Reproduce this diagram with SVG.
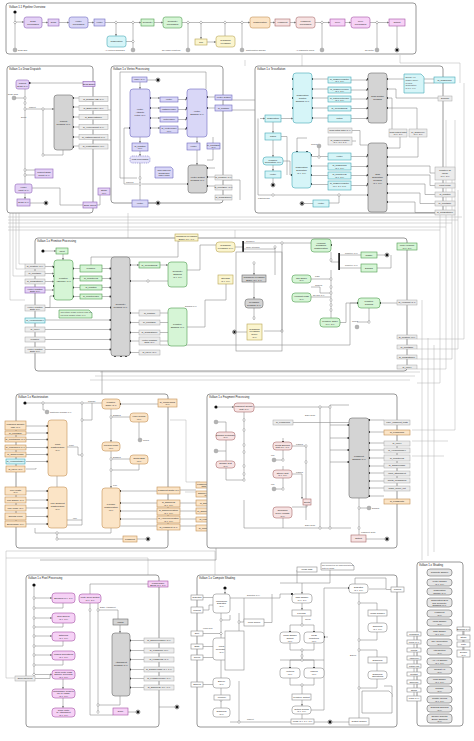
<svg xmlns="http://www.w3.org/2000/svg" xmlns:xlink="http://www.w3.org/1999/xlink" width="474" height="741" viewBox="0 0 474 741">
<style>
.fr{fill:#fff;stroke:#8c8c8c;stroke-width:.9}
.ti{font-family:"Liberation Sans",sans-serif;font-size:2.8px;fill:#222}
.t{font-family:"Liberation Sans",sans-serif;font-size:2.3px;fill:#222;text-anchor:middle}
.tl{font-family:"Liberation Sans",sans-serif;font-size:2.1px;fill:#444}
.c{fill:none;stroke:#858585;stroke-width:.55}
.ca{fill:none;stroke:#858585;stroke-width:.55;marker-end:url(#a)}
.cd{fill:none;stroke:#b0b0b0;stroke-width:.5}
.pu{fill:#e4d2f6;stroke:#8e63b8;stroke-width:.6}
.vb{fill:#d9d7f7;stroke:#6f6abf;stroke-width:.6}
.cy{fill:#d6f5f8;stroke:#43a8b6;stroke-width:.6}
.gn{fill:#d6f5d6;stroke:#4f9c4f;stroke-width:.6}
.ye{fill:#fbf5cf;stroke:#b9a553;stroke-width:.6}
.or{fill:#fbe4c6;stroke:#c49055;stroke-width:.6}
.pk{fill:#f7e3e3;stroke:#a96c6c;stroke-width:.6}
.mg{fill:#f6d2f6;stroke:#a552a5;stroke-width:.6}
.gy{fill:#d4d4d4;stroke:#6c6c6c;stroke-width:.6}
.lg{fill:#ececec;stroke:#a8a8a8;stroke-width:.5}
.wh{fill:#fff;stroke:#8c8c8c;stroke-width:.6}
.bar{fill:#111}
</style>
<defs>
<marker id="a" viewBox="0 0 6 6" refX="6" refY="3" markerWidth="4" markerHeight="4" orient="auto"><path d="M0,0L6,3L0,6z" fill="#777"/></marker>
<g id="dm"><path d="M0,-1.6L1.3,0L0,1.6L-1.3,0Z" fill="#fff" stroke="#777" stroke-width=".45"/></g>
<g id="tx"><circle r="1.8" fill="#fff" stroke="#555" stroke-width=".5"/><path d="M-1.2,-1.2L1.2,1.2M1.2,-1.2L-1.2,1.2" stroke="#555" stroke-width=".45"/></g>
<g id="te"><circle r="1.9" fill="#fff" stroke="#111" stroke-width=".5"/><circle r="1.2" fill="#111"/></g>
<g id="st"><circle r="1.6" fill="#111"/></g>
<rect id="pt" x="-.9" y="-.9" width="1.8" height="1.8" fill="#111"/>
</defs>
<rect width="474" height="741" fill="#fff"/>

<!-- ================= BUS CONNECTORS ================= -->
<g id="bus">
<path class="cd" d="M10,213V300H25M13,213V276H25M16,213V269H25M19,213V264H25"/>
<path class="cd" d="M8,217H462M8,220H458M8,223H452M8,227H446M8,230H440"/>
<path class="cd" d="M440,100V383H417M446,120V369H417M452,170V359H417M458,190V349H417M464,83V339H417"/>
<path class="cd" d="M422,300V560M428,338V556M434,345V552"/>
<path class="cd" d="M100,372H420M95,376H415M90,380H410"/>
<path class="c" d="M102,362V394"/>
<path class="cd" d="M6,551H215V575M6,558H148V575M6,551V678H15"/>
<path class="cd" d="M200,482H186V420H170M205,492H185"/>
<path class="cd" d="M412,430H455V120M412,441H448M412,456H444"/>
<path class="c" d="M93,110H111M93,140H111"/>
<path class="c" d="M223,100H255M223,110H255M223,180H240V200"/>
<path class="cd" d="M245,60V66M302,55V66M400,55V63H460V83"/>
<path class="c" d="M216,547V560H40"/>
<path class="cd" d="M235,230V238M128,213V238"/>
</g>

<!-- ================= TOP FRAME ================= -->
<g id="frame-overview">
<rect class="fr" x="6" y="3" width="410" height="51" rx="3"/>
<text class="ti" x="9" y="7.5">Vulkan 1.1 Pipeline Overview</text>
</g>
<g id="conn-overview">
<path class="c" d="M15,12V48"/>
<path class="ca" d="M15,22H24"/><path class="ca" d="M42,22.5H48"/><path class="ca" d="M59,22.5H69"/><path class="ca" d="M88,22.5H94"/>
<path class="ca" d="M105,22.5H141"/><path class="ca" d="M154,22.5H163"/><path class="ca" d="M182,22.5H250"/>
<path class="ca" d="M270,22.5H275"/><path class="ca" d="M290,22.5H296"/><path class="ca" d="M315,22.5H330"/>
<path class="ca" d="M345,22.5H351"/><path class="ca" d="M370,22.5H389"/>
<path class="ca" d="M116,22.5V36"/><path class="c" d="M126,41.5H133"/><path class="c" d="M133,22.5V48"/>
<path class="c" d="M188,22.5V48"/><path class="ca" d="M201,22.5V39"/><path class="ca" d="M207,42H216"/><path class="c" d="M225,36V22.5"/>
<path class="c" d="M242,22.5V48"/><path class="c" d="M322,22.5V48"/><path class="c" d="M377,22.5V48"/><path class="c" d="M397,26V48"/>
<use href="#st" x="15" y="12"/>
<use href="#dm" x="15" y="22.5"/><use href="#dm" x="116" y="22.5"/><use href="#dm" x="133" y="22.5"/><use href="#dm" x="133" y="41.5"/>
<use href="#dm" x="188" y="22.5"/><use href="#dm" x="201" y="22.5"/><use href="#dm" x="225" y="22.5"/><use href="#dm" x="242" y="22.5"/>
<use href="#dm" x="322" y="22.5"/><use href="#dm" x="377" y="22.5"/>
<use href="#tx" x="15" y="50"/><use href="#tx" x="133" y="50"/><use href="#tx" x="188" y="50"/><use href="#tx" x="242" y="50"/><use href="#tx" x="322" y="50"/><use href="#tx" x="377" y="50"/>
<use href="#te" x="397" y="50"/>
<text class="tl" x="18" y="51">Draw End</text>
<text class="tl" x="105" y="51">All vertices discarded</text>
<text class="tl" x="162" y="51">No visible primitives</text>
<text class="tl" x="246" y="51">Rasterization discard</text>
<text class="tl" x="296" y="51">All fragments culled</text>
<text class="tl" x="365" y="51">No writes</text>
</g>
<g id="n-o1"><rect class="pu" x="24" y="17" width="18" height="11" rx="2.5"/><text class="t" x="33" y="22">Draw</text><text class="t" x="33" y="25">Processing</text></g>
<g id="n-o2"><rect class="pu" x="48" y="19" width="11" height="7"/><text class="t" x="53.5" y="23.3">Draw</text></g>
<g id="n-o3"><rect class="vb" x="69" y="17" width="19" height="11" rx="2.5"/><text class="t" x="78.5" y="22">Vertex</text><text class="t" x="78.5" y="25">Processing</text></g>
<g id="n-o4"><rect class="vb" x="94" y="19" width="11" height="7"/><text class="t" x="99.5" y="23.3">Vertex</text></g>
<g id="n-o5"><rect class="cy" x="107" y="36" width="19" height="11" rx="2.5"/><text class="t" x="116.5" y="42.3">Tessellation</text></g>
<g id="n-o6"><rect class="gn" x="141" y="19" width="13" height="7"/><text class="t" x="147.5" y="23.3">Geometry</text></g>
<g id="n-o7"><rect class="gn" x="163" y="17" width="19" height="11" rx="2.5"/><text class="t" x="172.5" y="22">Geometry</text><text class="t" x="172.5" y="25">Processing</text></g>
<g id="n-o8"><rect class="ye" x="195" y="39" width="12" height="6"/><text class="t" x="201" y="42.8">Clip</text></g>
<g id="n-o9"><rect class="ye" x="216" y="36" width="19" height="11" rx="2.5"/><text class="t" x="225.5" y="41">Transform</text><text class="t" x="225.5" y="44">Feedback</text></g>
<g id="n-o10"><rect class="or" x="250" y="17" width="20" height="11" rx="2.5"/><text class="t" x="260" y="23.3">Rasterization</text></g>
<g id="n-o11"><rect class="pk" x="275" y="19" width="15" height="7"/><text class="t" x="282.5" y="23.3">Fragment</text></g>
<g id="n-o12"><rect class="pk" x="296" y="17" width="19" height="11" rx="2.5"/><text class="t" x="305.5" y="22">Fragment</text><text class="t" x="305.5" y="25">Processing</text></g>
<g id="n-o13"><rect class="mg" x="330" y="19" width="15" height="7"/><text class="t" x="337.5" y="23.3">Pixel</text></g>
<g id="n-o14"><rect class="mg" x="351" y="17" width="19" height="11" rx="2.5"/><text class="t" x="360.5" y="22">Pixel</text><text class="t" x="360.5" y="25">Processing</text></g>
<g id="n-o15"><rect class="mg" x="389" y="19" width="16" height="7"/><text class="t" x="397" y="23.3">Output</text></g>

<!-- ================= FRAME A ================= -->
<g id="frame-draw"><rect class="fr" x="7" y="66" width="86" height="147" rx="3"/><text class="ti" x="9" y="70">Vulkan 1.x Draw Dispatch</text></g>
<g id="conn-draw">
<path class="c" d="M29,83H83"/><path class="c" d="M15,98H25"/>
<path class="c" d="M25,89V184"/><path class="ca" d="M25,109H54"/><path class="c" d="M43,109V155H63V150"/>
<path class="c" d="M73,98H79M73,107H79M73,117H79M73,127H79M73,137H79M73,146H79"/>
<path class="c" d="M25,170H44V169"/><path class="c" d="M25,175H35"/>
<path class="ca" d="M25,193V199"/><path class="c" d="M30,203H44"/>
<path class="c" d="M32,188H60V205H83"/><path class="c" d="M97,205H100V195"/>
<use href="#dm" x="25" y="98"/><use href="#dm" x="25" y="103"/><use href="#dm" x="25" y="109"/><use href="#dm" x="43" y="109"/><use href="#dm" x="43" y="155"/><use href="#dm" x="25" y="170"/><use href="#dm" x="25" y="175"/>
<use href="#tx" x="14" y="98"/><use href="#te" x="46" y="203"/>
<use href="#pt" x="29.5" y="83"/>
<use href="#pt" x="73" y="98"/><use href="#pt" x="73" y="107"/><use href="#pt" x="73" y="117"/><use href="#pt" x="73" y="127"/><use href="#pt" x="73" y="137"/><use href="#pt" x="73" y="147"/>
<text class="tl" x="8" y="94.5">Draw Cmd</text><text class="tl" x="29" y="107.5">Indirect</text><text class="tl" x="21" y="118">Direct</text>
</g>
<g id="n-a1"><rect class="pu" x="16" y="80" width="13" height="9" rx="2"/><text class="t" x="22.5" y="84">Indirect</text><text class="t" x="22.5" y="87">Draw (1.x)</text></g>
<g id="n-a2"><rect class="pu" x="83" y="81.5" width="12" height="5"/><text class="t" x="89" y="84.8">Draw Buffer</text></g>
<g id="n-a3"><rect class="gy" x="54" y="95" width="19" height="55" rx="3"/><text class="t" x="63.5" y="121.5">Indirect</text><text class="t" x="63.5" y="124.5">Reading (1.x)</text></g>
<g id="n-a4"><rect class="lg" x="79" y="96.5" width="29" height="5"/><text class="t" x="93.5" y="99.8">gl_DrawIDARB (1.x)</text></g>
<g id="n-a5"><rect class="lg" x="79" y="105.5" width="29" height="5"/><text class="t" x="93.5" y="108.8">gl_BaseVertex (1.x)</text></g>
<g id="n-a6"><rect class="lg" x="79" y="114.5" width="29" height="5"/><text class="t" x="93.5" y="117.8">gl_BaseInstance</text></g>
<g id="n-a7"><rect class="lg" x="79" y="124.5" width="29" height="5"/><text class="t" x="93.5" y="127.8">gl_VertexCount (1.x)</text></g>
<g id="n-a8"><rect class="lg" x="79" y="134.5" width="29" height="5"/><text class="t" x="93.5" y="137.8">gl_InstanceCount (1.x)</text></g>
<g id="n-a9"><rect class="lg" x="79" y="144" width="29" height="5"/><text class="t" x="93.5" y="147.3">gl_FirstInstance (1.x)</text></g>
<g id="n-a10"><rect class="pu" x="35" y="169" width="18" height="9"/><text class="t" x="44" y="172.5">Indirect Draw</text><text class="t" x="44" y="175.5">Count (1.x)</text></g>
<g id="n-a11"><rect class="pu" x="15" y="184" width="17" height="9" rx="2"/><text class="t" x="23.5" y="187.8">Vertex</text><text class="t" x="23.5" y="190.8">Input (1.x)</text></g>
<g id="n-a12"><rect class="pu" x="17" y="199" width="13" height="7"/><text class="t" x="23.5" y="203.3">Draw (1.x)</text></g>
<g id="n-a13"><rect class="pu" x="83" y="202" width="14" height="6"/><text class="t" x="90" y="205.8">Draw Count</text></g>
<g id="n-a14"><rect class="pu" x="98" y="188" width="12" height="7"/><text class="t" x="104" y="191">Stride</text><text class="t" x="104" y="193.8">(1.x)</text></g>

<!-- ================= FRAME B ================= -->
<g id="frame-vertex"><rect class="fr" x="111" y="66" width="112" height="137" rx="3"/><text class="ti" x="113" y="70">Vulkan 1.x Vertex Processing</text></g>
<g id="conn-vertex">
<path class="c" d="M147,80H156"/><path class="ca" d="M140,82V89"/>
<path class="c" d="M120,72H206V89"/><path class="c" d="M120,72V178H137"/>
<path class="ca" d="M150,98H160"/><path class="ca" d="M150,108H160"/><path class="ca" d="M150,118H160"/><path class="ca" d="M150,128H160"/>
<path class="ca" d="M178,99.5H187"/><path class="ca" d="M178,109.5H187"/><path class="ca" d="M178,119.5H187"/><path class="ca" d="M178,129H187"/>
<path class="c" d="M207,97H215M207,108H215"/>
<path class="ca" d="M140,137V143"/><path class="ca" d="M140,151V156"/><path class="c" d="M140,163V200"/>
<path class="c" d="M130,128H124V184H138"/>
<path class="ca" d="M197,137V143"/><path class="ca" d="M197,150V165"/><path class="c" d="M213,137V143"/><path class="c" d="M213,149V160H207"/>
<path class="c" d="M142,184H188"/>
<path class="c" d="M207,168H215M207,177H215M207,186H215"/>
<path class="c" d="M148,203H156"/>
<use href="#dm" x="140" y="178"/><use href="#dm" x="140" y="184"/>
<use href="#te" x="158" y="80"/><use href="#te" x="158" y="203"/>
<use href="#pt" x="150" y="98"/><use href="#pt" x="150" y="108"/><use href="#pt" x="150" y="118"/><use href="#pt" x="150" y="128"/><use href="#pt" x="130" y="128"/>
<use href="#pt" x="187" y="98"/><use href="#pt" x="187" y="108"/><use href="#pt" x="187" y="118"/><use href="#pt" x="187" y="128"/><use href="#pt" x="207" y="97"/><use href="#pt" x="207" y="108"/>
<use href="#pt" x="207" y="168"/><use href="#pt" x="207" y="177"/><use href="#pt" x="207" y="186"/><use href="#pt" x="188" y="184"/>
<text class="tl" x="126" y="183">Indexed</text>
</g>
<g id="n-b1"><rect class="vb" x="132" y="77" width="15" height="5"/><text class="t" x="139.5" y="80.3">Index (1.x)</text></g>
<g id="n-b2"><rect class="vb" x="130" y="89" width="20" height="48" rx="3"/><text class="t" x="140" y="110">Vertex</text><text class="t" x="140" y="113">Attribute</text><text class="t" x="140" y="116">Fetch (1.x)</text></g>
<g id="n-b3"><rect class="vb" x="160" y="97" width="18" height="5"/><text class="t" x="169" y="100.3">Vertex</text></g>
<g id="n-b4"><rect class="vb" x="160" y="107" width="18" height="5"/><text class="t" x="169" y="110.3">InstanceIndex</text></g>
<g id="n-b5"><rect class="vb" x="160" y="117" width="18" height="5"/><text class="t" x="169" y="120.3">VertexIndex</text></g>
<g id="n-b6"><rect class="vb" x="160" y="126" width="18" height="7"/><text class="t" x="169" y="129">gl_VertexIndex</text><text class="t" x="169" y="131.6">(1.x)</text></g>
<g id="n-b7"><rect class="vb" x="187" y="89" width="20" height="48" rx="3"/><text class="t" x="197" y="111.5">Vertex</text><text class="t" x="197" y="114.5">Shading (1.x)</text></g>
<g id="n-b8"><rect class="vb" x="215" y="95" width="17" height="5"/><text class="t" x="223.5" y="98.3">Vertex Output</text></g>
<g id="n-b9"><rect class="vb" x="215" y="105" width="17" height="6"/><text class="t" x="223.5" y="108.8">gl_Position</text></g>
<g id="n-b10"><rect class="vb" x="132" y="143" width="16" height="8"/><text class="t" x="140" y="146.5">gl_Position</text><text class="t" x="140" y="149.3">(1.x)</text></g>
<g id="n-b11"><rect fill="#e4e2fa" stroke="#6f6abf" stroke-width=".6" stroke-dasharray="1,.8" x="130" y="156" width="20" height="7" rx="2.5"/><text class="t" x="140" y="160.3">Post-Processing</text></g>
<g id="n-b12"><path class="vb" d="M155,167H171L173,169V178H155Z"/><text class="t" x="164" y="171">Non-indexed</text><text class="t" x="164" y="173.5">draws skip</text><text class="t" x="164" y="176">index fetch</text></g>
<g id="n-b13"><rect class="vb" x="187" y="143" width="13" height="7"/><text class="t" x="193.5" y="147.3">Vertex</text></g>
<g id="n-b14"><rect class="vb" x="207" y="143" width="13" height="6"/><text class="t" x="213.5" y="145.8">gl_PointSize</text><text class="t" x="213.5" y="148.3">(1.x)</text></g>
<g id="n-b15"><rect class="gy" x="188" y="165" width="19" height="28" rx="3"/><text class="t" x="197.5" y="178">Vertex Output</text><text class="t" x="197.5" y="181">Reading (1.x)</text></g>
<g id="n-b16"><rect class="lg" x="215" y="175" width="17" height="5"/><text class="t" x="223.5" y="178.3">gl_Position (1.x)</text></g>
<g id="n-b17"><rect class="lg" x="215" y="185" width="17" height="5"/><text class="t" x="223.5" y="188.3">gl_PointSize (1.x)</text></g>
<g id="n-b18"><rect class="lg" x="215" y="195" width="17" height="5"/><text class="t" x="223.5" y="198.3">gl_ClipDistance</text></g>
<g id="n-b19"><rect class="vb" x="132" y="200" width="16" height="7"/><text class="t" x="140" y="204.3">Vertex</text></g>

<!-- ================= FRAME C ================= -->
<g id="frame-tess"><rect class="fr" x="255" y="66" width="188" height="147" rx="3"/><text class="ti" x="257" y="70">Vulkan 1.x Tessellation</text></g>
<g id="conn-tess">
<path class="c" d="M312,79H328M312,89H328M312,98H328M312,108H328M312,118H328"/>
<path class="ca" d="M351,80H368"/><path class="ca" d="M351,90H368"/><path class="ca" d="M351,99H368"/><path class="ca" d="M351,108.5H368"/><path class="ca" d="M351,118.5H368"/>
<path class="c" d="M387,79H434M387,89H396V98H438M387,98H392V133H389M387,108H417V129"/>
<path class="c" d="M424,83H434"/>
<path class="ca" d="M260,118.5H265"/><path class="ca" d="M281,118.5H293"/><path class="c" d="M258,118.5V195H339"/>
<path class="ca" d="M273,122V133"/><path class="ca" d="M273,140V157"/><path class="ca" d="M273,165V171"/><path class="c" d="M273,178V184"/>
<path class="c" d="M283,161H290V175H292"/>
<path class="c" d="M352,130.5H360V145H377M352,141H356"/>
<path class="c" d="M297,145V152M307,138H297V145"/><path class="c" d="M319,148V157"/>
<path class="c" d="M311,156.5H328M311,166H328M311,175.5H328M311,184.5H328"/>
<path class="ca" d="M351,156.5H368"/><path class="ca" d="M351,166.5H368"/><path class="ca" d="M351,175.5H368"/><path class="ca" d="M351,185.5H368"/>
<path class="c" d="M339,195H368M339,195V203H329"/><path class="c" d="M313,203.5H304"/>
<path class="c" d="M387,148H400V137M387,157H418V137M387,166H430V173H435M387,175H430V185.5H435M387,184H425V194.5H435M387,193H420V203.5H435M387,202H415V212.5H435"/>
<path class="c" d="M281,136.5H287V175"/>
<use href="#te" x="273" y="185"/><use href="#dm" x="273" y="195"/><use href="#dm" x="339" y="195"/><use href="#tx" x="319" y="146"/><use href="#dm" x="319" y="157"/><use href="#te" x="302" y="203.5"/>
<use href="#pt" x="293" y="79"/><use href="#pt" x="293" y="89"/><use href="#pt" x="293" y="98"/><use href="#pt" x="293" y="108"/>
<use href="#pt" x="312" y="79"/><use href="#pt" x="312" y="89"/><use href="#pt" x="312" y="98"/><use href="#pt" x="312" y="108"/><use href="#pt" x="312" y="118"/>
<use href="#pt" x="368" y="79"/><use href="#pt" x="368" y="89"/><use href="#pt" x="368" y="98"/><use href="#pt" x="368" y="108"/><use href="#pt" x="368" y="118"/>
<use href="#pt" x="387" y="79"/><use href="#pt" x="387" y="89"/><use href="#pt" x="387" y="98"/><use href="#pt" x="387" y="108"/>
<use href="#pt" x="297" y="152"/><use href="#pt" x="307" y="152"/><use href="#pt" x="292" y="175"/>
<use href="#pt" x="311" y="155"/><use href="#pt" x="311" y="166"/><use href="#pt" x="311" y="175"/><use href="#pt" x="311" y="184"/>
<use href="#pt" x="368" y="155"/><use href="#pt" x="368" y="166"/><use href="#pt" x="368" y="175"/><use href="#pt" x="368" y="184"/><use href="#pt" x="368" y="195"/>
<use href="#pt" x="387" y="148"/><use href="#pt" x="387" y="157"/><use href="#pt" x="387" y="166"/><use href="#pt" x="387" y="175"/><use href="#pt" x="387" y="184"/><use href="#pt" x="387" y="193"/><use href="#pt" x="387" y="202"/>
<text class="tl" x="311" y="145">Culled</text><text class="tl" x="258" y="199">Passthrough</text>
</g>
<g id="n-c1"><rect class="cy" x="293" y="73" width="19" height="50" rx="3"/><text class="t" x="302.5" y="96">Tessellation</text><text class="t" x="302.5" y="99">Control</text><text class="t" x="302.5" y="102">Shading (1.x)</text></g>
<g id="n-c2"><rect class="cy" x="328" y="77" width="23" height="6"/><text class="t" x="339.5" y="79.6">gl_TessLevelOuter</text><text class="t" x="339.5" y="82.2">(1.x, 1.x)</text></g>
<g id="n-c3"><rect class="cy" x="328" y="87" width="23" height="6"/><text class="t" x="339.5" y="89.6">gl_TessLevelInner</text><text class="t" x="339.5" y="92.2">(1.x, 1.x)</text></g>
<g id="n-c4"><rect class="cy" x="328" y="96" width="23" height="6"/><text class="t" x="339.5" y="98.6">gl_PatchVerticesIn</text><text class="t" x="339.5" y="101.2">(1.x, 1.x)</text></g>
<g id="n-c5"><rect class="cy" x="328" y="106" width="23" height="5"/><text class="t" x="339.5" y="109.3">gl_InvocationID</text></g>
<g id="n-c6"><rect class="cy" x="328" y="115" width="23" height="7"/><text class="t" x="339.5" y="119.3">Patch</text></g>
<g id="n-c7"><rect class="gy" x="368" y="73" width="19" height="50" rx="3"/><text class="t" x="377.5" y="96.5">Tess Control</text><text class="t" x="377.5" y="99.5">Reading</text></g>
<g id="n-c8"><path class="cy" d="M404,74H421L424,77V93H404Z"/><text class="tl" x="405.5" y="78">Bound: if a</text><text class="tl" x="405.5" y="80.8">shader object</text><text class="tl" x="405.5" y="83.6">is used</text><text class="tl" x="405.5" y="86.4">Tessellation</text><text class="tl" x="405.5" y="89.2">is (1.x, 1.x)</text></g>
<g id="n-c9"><rect class="cy" x="434" y="77" width="21" height="6"/><text class="t" x="444.5" y="80.8">gl_TessCoord</text></g>
<g id="n-c10"><rect class="lg" x="438" y="96" width="14" height="5"/><text class="t" x="445" y="99.3">Domain</text></g>
<g id="n-c11"><rect class="cy" x="265" y="115" width="16" height="7"/><text class="t" x="273" y="119.3">Tessellation</text></g>
<g id="n-c12"><rect class="cy" x="265" y="133" width="16" height="7"/><text class="t" x="273" y="137.3">Patch</text></g>
<g id="n-c13"><rect class="cy" x="263" y="157" width="20" height="8" rx="3"/><text class="t" x="273" y="160.5">Primitive</text><text class="t" x="273" y="163.3">Generation (1.x)</text></g>
<g id="n-c14"><rect class="cy" x="265" y="171" width="16" height="7"/><text class="t" x="273" y="175.3">Vertex</text></g>
<g id="n-c15"><rect class="lg" x="328" y="128" width="24" height="5"/><text class="t" x="340" y="131.3">Tess patch data (1.x)</text></g>
<g id="n-c16"><rect class="lg" x="328" y="137" width="24" height="8"/><text class="t" x="340" y="140.5">gl_TessLevelOuter</text><text class="t" x="340" y="143.3">(1.x, 1.x, 1.x)</text></g>
<g id="n-c17"><rect class="cy" x="292" y="152" width="19" height="36" rx="3"/><text class="t" x="301.5" y="167.5">Tessellation</text><text class="t" x="301.5" y="170.5">Evaluation</text><text class="t" x="301.5" y="173.5">(1.x, 1.x)</text></g>
<g id="n-c18"><rect class="cy" x="328" y="153" width="23" height="7"/><text class="t" x="339.5" y="157.3">Vertex</text></g>
<g id="n-c19"><rect class="cy" x="328" y="163" width="23" height="7"/><text class="t" x="339.5" y="166">gl_TessCoord</text><text class="t" x="339.5" y="168.6">(1.x, 1.x)</text></g>
<g id="n-c20"><rect class="cy" x="328" y="172" width="23" height="7"/><text class="t" x="339.5" y="175">gl_PrimitiveID</text><text class="t" x="339.5" y="177.6">(1.x, 1.x)</text></g>
<g id="n-c21"><rect class="cy" x="328" y="181" width="23" height="9"/><text class="t" x="339.5" y="184.3">gl_TessLevelOuter</text><text class="t" x="339.5" y="187">(1.x, 1.x, 1.x)</text></g>
<g id="n-c22"><rect class="gy" x="368" y="143" width="19" height="69" rx="3"/><text class="t" x="377.5" y="175">Tess</text><text class="t" x="377.5" y="178">Evaluation</text><text class="t" x="377.5" y="181">Reading</text><text class="t" x="377.5" y="184">(1.x, 1.x)</text></g>
<g id="n-c23"><rect class="lg" x="389" y="129" width="18" height="8"/><text class="t" x="398" y="132.5">Tess output data</text><text class="t" x="398" y="135.3">(1.x, 1.x)</text></g>
<g id="n-c24"><rect class="lg" x="409" y="129" width="18" height="8"/><text class="t" x="418" y="132.5">gl_TessLevel</text><text class="t" x="418" y="135.3">(1.x, 1.x)</text></g>
<g id="n-c25"><rect class="lg" x="435" y="167" width="20" height="13"/><text class="t" x="445" y="171">Primitive ID</text><text class="t" x="445" y="173.8">range</text><text class="t" x="445" y="176.6">(1.x, 1.x)</text></g>
<g id="n-c26"><rect class="lg" x="435" y="183" width="20" height="5"/><text class="t" x="445" y="186.3">Point Mode</text></g>
<g id="n-c27"><rect class="lg" x="435" y="192" width="20" height="5"/><text class="t" x="445" y="195.3">gl_Position</text></g>
<g id="n-c28"><rect class="lg" x="435" y="201" width="20" height="5"/><text class="t" x="445" y="204.3">gl_PointSize</text></g>
<g id="n-c29"><rect class="lg" x="435" y="210" width="20" height="5"/><text class="t" x="445" y="213.3">gl_ClipDistance</text></g>
<g id="n-c30"><rect class="cy" x="313" y="200" width="16" height="7"/><text class="t" x="321" y="204.3">Vertex</text></g>

<!-- ================= ROW 3 ================= -->
<g id="frame-geom"><rect class="fr" x="35" y="238" width="372" height="133" rx="3"/><text class="ti" x="37" y="242">Vulkan 1.x Primitive Processing</text></g>
<g id="conn-geom">
<path class="ca" d="M45,251H56"/><path class="ca" d="M63,254V260"/>
<path class="ca" d="M45,266.5H54"/><path class="ca" d="M45,273.5H54"/><path class="ca" d="M45,281.5H54"/><path class="ca" d="M45,290H54"/><path class="c" d="M45,307.5H50V296H54"/>
<path class="c" d="M73,268.5H80M73,278.5H80M73,287.5H80M73,296.5H80"/>
<path class="c" d="M91,265V257H178V241H180"/>
<path class="ca" d="M102,268.5H111"/><path class="ca" d="M102,278.5H111"/><path class="ca" d="M102,287.5H111"/><path class="ca" d="M102,296.5H111"/>
<path class="ca" d="M45,320H111"/><path class="ca" d="M45,329.5H111"/><path class="ca" d="M45,339.5H111"/><path class="ca" d="M45,349.5H111"/><path class="c" d="M45,307.5H111"/>
<path class="ca" d="M130,265H139"/><path class="ca" d="M160,265H168"/>
<path class="c" d="M130,281H148V282"/><path class="c" d="M148,281H168"/>
<path class="c" d="M130,313H139M130,322.5H139M130,332.5H139M130,341H139M130,352.5H139"/>
<path class="c" d="M160,313H168M160,322.5H168M160,332.5H168M160,341H168"/>
<path class="c" d="M187,270H200V245H216"/><path class="c" d="M187,327H205V300H226"/>
<path class="c" d="M235,247H243"/><path class="c" d="M244,243H282M244,249H275V247"/>
<path class="c" d="M282,243H311M282,243V331H264"/><path class="c" d="M275,247V275"/>
<path class="ca" d="M254,263V275"/><path class="ca" d="M254,282V299"/><path class="c" d="M254,308V320"/>
<path class="c" d="M237,332H247"/><path class="c" d="M226,284V300"/>
<path class="c" d="M331,252V262H339"/><path class="c" d="M340,255H361M340,268H361"/><path class="c" d="M377,255H385M377,268H391V255"/>
<path class="c" d="M331,270V318M311,279H331M311,297H331M311,287H320V293H331"/>
<path class="c" d="M340,322.5H346V303H358"/><path class="c" d="M380,303H397"/><path class="c" d="M369,308V322H357"/>
<path class="c" d="M359,303H350V345H160"/>
<use href="#st" x="43" y="251"/>
<rect class="bar" x="242.3" y="241" width="1.6" height="11"/><rect class="bar" x="338.3" y="253" width="1.6" height="17"/>
<use href="#dm" x="282" y="243"/><use href="#dm" x="275" y="247"/><use href="#dm" x="282" y="331"/><use href="#dm" x="254" y="263"/><use href="#dm" x="254" y="318"/>
<use href="#dm" x="331" y="260"/><use href="#dm" x="331" y="279"/><use href="#dm" x="331" y="287"/><use href="#dm" x="331" y="293"/><use href="#dm" x="331" y="300"/><use href="#dm" x="331" y="305"/><use href="#dm" x="331" y="310"/>
<use href="#dm" x="369" y="322"/><use href="#dm" x="148" y="281"/>
<use href="#te" x="234.5" y="332"/><use href="#te" x="387" y="255"/><use href="#tx" x="357" y="327"/>
<use href="#pt" x="54" y="267"/><use href="#pt" x="54" y="276"/><use href="#pt" x="54" y="286"/><use href="#pt" x="54" y="296"/>
<use href="#pt" x="73" y="268.5"/><use href="#pt" x="73" y="278.5"/><use href="#pt" x="73" y="287.5"/><use href="#pt" x="73" y="296.5"/>
<use href="#pt" x="111" y="268.5"/><use href="#pt" x="111" y="278.5"/><use href="#pt" x="111" y="287.5"/><use href="#pt" x="111" y="296.5"/><use href="#pt" x="111" y="307.5"/><use href="#pt" x="111" y="320"/><use href="#pt" x="111" y="329.5"/><use href="#pt" x="111" y="339.5"/><use href="#pt" x="111" y="349.5"/>
<use href="#pt" x="130" y="265"/><use href="#pt" x="130" y="281"/><use href="#pt" x="130" y="313"/><use href="#pt" x="130" y="322.5"/><use href="#pt" x="130" y="332.5"/><use href="#pt" x="130" y="341"/><use href="#pt" x="130" y="352.5"/>
<use href="#pt" x="115" y="356"/><use href="#pt" x="121" y="356"/><use href="#pt" x="126" y="356"/>
<use href="#pt" x="331" y="245"/><use href="#pt" x="358" y="303"/><use href="#pt" x="380" y="303"/>
<text class="tl" x="246" y="242">Stream 0</text><text class="tl" x="246" y="248">Other Streams</text>
<text class="tl" x="345" y="254">Primitive (1.x)</text><text class="tl" x="345" y="266">Primitive (1.x)</text>
<text class="tl" x="315" y="277">Pass</text><text class="tl" x="315" y="286">Clipped</text><text class="tl" x="313" y="296">No Clip (1.x)</text>
<text class="tl" x="352" y="322">Culled</text><text class="tl" x="185" y="307">Discard (1.x)</text>
</g>
<g id="n-g1"><rect class="gn" x="56" y="248" width="12" height="6"/><text class="t" x="62" y="251.8">Input</text></g>
<g id="n-g2"><rect class="gn" x="54" y="260" width="19" height="40" rx="3"/><text class="t" x="63.5" y="279">Primitive</text><text class="t" x="63.5" y="282">Assembly (1.x)</text></g>
<g id="n-g3"><rect class="lg" x="25" y="264" width="20" height="5"/><text class="t" x="35" y="267.3">gl_Position (1.x)</text></g>
<g id="n-g4"><rect class="lg" x="25" y="271" width="20" height="5"/><text class="t" x="35" y="274.3">gl_PointSize</text></g>
<g id="n-g5"><rect class="lg" x="25" y="279" width="20" height="5"/><text class="t" x="35" y="282.3">gl_ClipDistance</text></g>
<g id="n-g6"><rect class="pu" x="25" y="287" width="20" height="6"/><text class="t" x="35" y="289.7">Vertex Position</text><text class="t" x="35" y="292.2">Data (1.x)</text></g>
<g id="n-g7"><rect class="lg" x="25" y="305" width="20" height="6"/><text class="t" x="35" y="307.7">Vertex Position</text><text class="t" x="35" y="310.2">Data (1.x)</text></g>
<g id="n-g8"><rect class="cy" x="25" y="318" width="20" height="5"/><text class="t" x="35" y="321.3">gl_ViewportIndex</text></g>
<g id="n-g9"><rect class="lg" x="25" y="327" width="20" height="5"/><text class="t" x="35" y="330.3">gl_Layer</text></g>
<g id="n-g10"><rect class="lg" x="25" y="337" width="20" height="5"/><text class="t" x="35" y="340.3">Primitive</text></g>
<g id="n-g11"><rect class="lg" x="25" y="347" width="20" height="6"/><text class="t" x="35" y="349.7">Vertex Position</text><text class="t" x="35" y="352.2">Data (1.x)</text></g>
<g id="n-g12"><rect class="gn" x="80" y="265" width="22" height="7"/><text class="t" x="91" y="269.3">Primitive</text></g>
<g id="n-g13"><rect class="gn" x="80" y="276" width="22" height="5"/><text class="t" x="91" y="279.3">gl_PrimitiveID</text></g>
<g id="n-g14"><rect class="gn" x="80" y="285" width="22" height="5"/><text class="t" x="91" y="288.3">gl_Position</text></g>
<g id="n-g15"><rect class="gn" x="80" y="294" width="22" height="5"/><text class="t" x="91" y="297.3">gl_PrimitiveIDIn</text></g>
<g id="n-g16"><path class="gn" d="M59,310H89L92,313V318H59Z"/><text class="tl" x="60.5" y="313">This stage reads vertices from the</text><text class="tl" x="60.5" y="316">previous shader stage (1.x)</text></g>
<g id="n-g17"><rect class="gy" x="111" y="257" width="19" height="99" rx="3"/><text class="t" x="120.5" y="305">Geometry</text><text class="t" x="120.5" y="308">Reading (1.x)</text></g>
<g id="n-g18"><rect class="gn" x="139" y="262" width="21" height="6"/><text class="t" x="149.5" y="265.8">gl_InvocationID</text></g>
<g id="n-g19"><rect class="gn" x="168" y="262" width="19" height="25" rx="3"/><text class="t" x="177.5" y="272">Geometry</text><text class="t" x="177.5" y="275">Shading</text><text class="t" x="177.5" y="278">(1.x, 1.x)</text></g>
<g id="n-g20"><rect class="gn" x="168" y="308" width="19" height="38" rx="3"/><text class="t" x="177.5" y="325">Primitive</text><text class="t" x="177.5" y="328">Shading (1.x)</text></g>
<g id="n-g21"><rect class="lg" x="139" y="310" width="21" height="6"/><text class="t" x="149.5" y="313.8">gl_Position</text></g>
<g id="n-g22"><rect class="lg" x="139" y="320" width="21" height="5"/><text class="t" x="149.5" y="323.3">gl_PointSize</text></g>
<g id="n-g23"><rect class="lg" x="139" y="330" width="21" height="5"/><text class="t" x="149.5" y="333.3">gl_ClipDistance</text></g>
<g id="n-g24"><rect class="lg" x="139" y="337" width="21" height="8"/><text class="t" x="149.5" y="340.5">Vertex Position</text><text class="t" x="149.5" y="343.3">Data (1.x)</text></g>
<g id="n-g25"><rect class="lg" x="139" y="350" width="21" height="5"/><text class="t" x="149.5" y="353.3">gl_Layer (1.x)</text></g>
<g id="n-g26"><rect class="ye" x="175" y="234" width="23" height="7"/><text class="t" x="186.5" y="237">Transform Feedback</text><text class="t" x="186.5" y="239.6">Buffer (1.x, 1.x)</text></g>
<g id="n-g27"><rect class="ye" x="216" y="242" width="19" height="10" rx="3"/><text class="t" x="225.5" y="246">Transform</text><text class="t" x="225.5" y="249">Feedback (1.x)</text></g>
<g id="n-g28"><rect class="ye" x="218" y="275" width="15" height="9"/><text class="t" x="225.5" y="279">Streams</text><text class="t" x="225.5" y="281.8">(1.x, 1.x)</text></g>
<g id="n-g29"><rect fill="none" stroke="#8c8c8c" stroke-width=".6" x="236" y="252" width="46" height="99"/></g>
<g id="n-g30"><rect class="gy" x="242" y="275" width="24" height="7"/><text class="t" x="254" y="278">Transform Feedback</text><text class="t" x="254" y="280.6">Buffer (1.x, 1.x)</text></g>
<g id="n-g31"><rect class="gy" x="245" y="299" width="18" height="9" rx="3"/><text class="t" x="254" y="302.8">Feedback</text><text class="t" x="254" y="305.6">Reading (1.x)</text></g>
<g id="n-g32"><rect class="ye" x="247" y="324" width="15" height="16"/><text class="t" x="254.5" y="329.5">Transform</text><text class="t" x="254.5" y="332.3">Feedback</text><text class="t" x="254.5" y="335.1">Query</text><text class="t" x="254.5" y="337.9">(1.x)</text></g>
<g id="n-g33"><rect class="gn" x="311" y="239" width="20" height="13" rx="3"/><text class="t" x="321" y="243.5">Viewport</text><text class="t" x="321" y="246.3">Transform</text><text class="t" x="321" y="249.1">Rasterization</text></g>
<g id="n-g34"><rect class="gn" x="361" y="252" width="16" height="6"/><text class="t" x="369" y="255.8">Raster</text></g>
<g id="n-g35"><rect class="gn" x="361" y="264" width="16" height="8"/><text class="t" x="369" y="268.8">Discard</text></g>
<g id="n-g36"><rect class="gn" x="397" y="243" width="20" height="7"/><text class="t" x="407" y="246">Multi Viewport</text><text class="t" x="407" y="248.6">(1.x, 1.x)</text></g>
<g id="n-g37"><rect class="gn" x="292" y="275" width="19" height="8" rx="3"/><text class="t" x="301.5" y="278.5">Clip Space</text><text class="t" x="301.5" y="281.3">(1.x)</text></g>
<g id="n-g38"><rect class="gn" x="292" y="293" width="19" height="9" rx="3"/><text class="t" x="301.5" y="296.8">Viewport Mask</text><text class="t" x="301.5" y="299.6">(1.x)</text></g>
<g id="n-g39"><rect class="gn" x="320" y="318" width="20" height="9" rx="3"/><text class="t" x="330" y="321.8">Primitive Order</text><text class="t" x="330" y="324.6">(1.x, 1.x)</text></g>
<g id="n-g40"><rect class="gn" x="358" y="298" width="22" height="10" rx="3"/><text class="t" x="369" y="302.3">Primitive</text><text class="t" x="369" y="305.1">Clipping</text></g>
<g id="n-g41"><rect class="lg" x="397" y="300" width="20" height="5"/><text class="t" x="407" y="303.3">gl_Viewport (1.x)</text></g>
<g id="n-g42"><rect class="lg" x="397" y="335" width="20" height="4"/><text class="t" x="407" y="337.9">gl_Position (1.x)</text></g>
<g id="n-g43"><rect class="lg" x="397" y="345" width="20" height="4"/><text class="t" x="407" y="347.9">gl_PointSize</text></g>
<g id="n-g44"><rect class="lg" x="397" y="355" width="20" height="4"/><text class="t" x="407" y="357.9">gl_ClipDistance</text></g>
<g id="n-g45"><rect class="lg" x="397" y="365" width="20" height="4"/><text class="t" x="407" y="367.9">gl_Layer</text></g>

<!-- ================= FRAME D ================= -->
<g id="frame-raster"><rect class="fr" x="16" y="394" width="152" height="154" rx="3"/><text class="ti" x="18" y="398">Vulkan 1.x Rasterization</text></g>
<g id="conn-raster">
<path class="c" d="M27,403H102"/><path class="c" d="M43,403V410H45"/>
<path class="c" d="M120,404H158"/><path class="ca" d="M111,409V442"/><path class="c" d="M111,417H130"/><path class="c" d="M139,422V438"/>
<path class="ca" d="M111,451V488"/><path class="c" d="M111,459H130"/><path class="c" d="M139,464V470H111"/>
<path class="c" d="M82,403V525H57V528"/><path class="c" d="M67,447H78V455H82"/><path class="c" d="M67,520H82"/>
<path class="c" d="M57,476V487"/><path class="c" d="M92,403V420H82"/>
<path class="ca" d="M26,426H48"/><path class="ca" d="M26,433H48"/><path class="ca" d="M26,439.5H48"/><path class="ca" d="M26,447.5H48"/><path class="ca" d="M26,454.5H48"/><path class="ca" d="M26,461.5H48"/><path class="c" d="M26,469H36V468"/>
<path class="ca" d="M26,491H48"/><path class="ca" d="M26,500H48"/><path class="ca" d="M26,508H48"/><path class="ca" d="M26,516.5H48"/><path class="ca" d="M26,524H48"/>
<path class="c" d="M120,491H157M120,503H157M120,511H157M120,519H157M120,526H157"/>
<path class="c" d="M180,490H196M180,503H196M180,511H196M180,519H196M180,526H196"/>
<path class="c" d="M35,528V533H111V528M57,533V539H123"/><path class="c" d="M137,539H146"/>
<use href="#st" x="25" y="403"/><use href="#dm" x="43" y="403"/><use href="#dm" x="82" y="403"/><use href="#dm" x="82" y="420"/><use href="#dm" x="111" y="417"/><use href="#dm" x="111" y="459"/><use href="#dm" x="111" y="470"/>
<use href="#dm" x="82" y="455"/><use href="#dm" x="57" y="533"/><use href="#dm" x="57" y="539"/>
<use href="#tx" x="47" y="412"/><use href="#tx" x="140" y="440"/><use href="#te" x="148" y="539"/>
<use href="#pt" x="48" y="426"/><use href="#pt" x="48" y="433"/><use href="#pt" x="48" y="439.5"/><use href="#pt" x="48" y="447.5"/><use href="#pt" x="48" y="454.5"/><use href="#pt" x="48" y="461.5"/>
<use href="#pt" x="48" y="491"/><use href="#pt" x="48" y="500"/><use href="#pt" x="48" y="508"/><use href="#pt" x="48" y="516.5"/><use href="#pt" x="48" y="524"/>
<use href="#pt" x="120" y="491"/><use href="#pt" x="120" y="503"/><use href="#pt" x="120" y="511"/><use href="#pt" x="120" y="519"/><use href="#pt" x="120" y="404"/>
<text class="tl" x="50" y="413">Rasterizer discard (1.x)</text><text class="tl" x="88" y="401.5">Triangle</text><text class="tl" x="113" y="415.5">Enabled</text><text class="tl" x="143" y="441">Culled</text><text class="tl" x="113" y="457.5">Enabled</text><text class="tl" x="69" y="446">Point</text><text class="tl" x="73" y="519">Line</text><text class="tl" x="113" y="486">Poly</text>
</g>
<g id="n-d1"><rect class="or" x="102" y="399" width="18" height="10" rx="3"/><text class="t" x="111" y="403.3">Primitive</text><text class="t" x="111" y="406.1">Order (1.x)</text></g>
<g id="n-d2"><rect class="or" x="158" y="399" width="19" height="8"/><text class="t" x="167.5" y="402.5">gl_FrontFacing</text><text class="t" x="167.5" y="405.3">(1.x)</text></g>
<g id="n-d3"><rect class="or" x="130" y="413" width="18" height="9" rx="3"/><text class="t" x="139" y="416.8">Face Culling</text><text class="t" x="139" y="419.6">(1.x)</text></g>
<g id="n-d4"><rect class="or" x="102" y="442" width="18" height="9" rx="3"/><text class="t" x="111" y="445.8">Polygon Mode</text><text class="t" x="111" y="448.6">(1.x)</text></g>
<g id="n-d5"><rect class="or" x="130" y="455" width="18" height="9" rx="3"/><text class="t" x="139" y="458.8">Depth Bias</text><text class="t" x="139" y="461.6">(1.x)</text></g>
<g id="n-d6"><rect class="or" x="48" y="420" width="19" height="56" rx="3"/><text class="t" x="57.5" y="445">Point</text><text class="t" x="57.5" y="448">Rasterization</text><text class="t" x="57.5" y="451">(1.x)</text></g>
<g id="n-d7"><rect class="or" x="48" y="487" width="19" height="41" rx="3"/><text class="t" x="57.5" y="504">Line Segment</text><text class="t" x="57.5" y="507">Rasterization</text><text class="t" x="57.5" y="510">(1.x)</text></g>
<g id="n-d8"><rect class="or" x="102" y="488" width="18" height="40" rx="3"/><text class="t" x="111" y="505">Polygon</text><text class="t" x="111" y="508">Rasterization</text><text class="t" x="111" y="511">(1.x)</text></g>
<g id="n-d9"><rect class="or" x="5" y="421" width="21" height="9"/><text class="t" x="15.5" y="424.8">Fragment Density</text><text class="t" x="15.5" y="427.6">Map (1.x)</text></g>
<g id="n-d10"><rect class="or" x="5" y="431" width="21" height="4"/><text class="t" x="15.5" y="433.9">gl_PointSize</text></g>
<g id="n-d11"><rect class="or" x="5" y="437" width="21" height="5"/><text class="t" x="15.5" y="440.3">gl_PointCoord (1.x)</text></g>
<g id="n-d12"><rect class="or" x="5" y="445" width="21" height="5"/><text class="t" x="15.5" y="448.3">gl_FragCoord (1.x)</text></g>
<g id="n-d13"><rect class="or" x="5" y="452" width="21" height="5"/><text class="t" x="15.5" y="455.3">gl_SampleMask</text></g>
<g id="n-d14"><rect class="cy" x="6" y="459" width="19" height="5"/><text class="t" x="15.5" y="462.3">gl_ViewportIndex</text></g>
<g id="n-d15"><rect class="or" x="6" y="466" width="19" height="6"/><text class="t" x="15.5" y="469.8">gl_Layer (1.x)</text></g>
<g id="n-d16"><rect class="or" x="5" y="487" width="21" height="8"/><text class="t" x="15.5" y="490.5">Line Width</text><text class="t" x="15.5" y="493.3">(1.x)</text></g>
<g id="n-d17"><rect class="or" x="5" y="497" width="21" height="6"/><text class="t" x="15.5" y="500.8">Line Stipple (1.x)</text></g>
<g id="n-d18"><rect class="or" x="5" y="505" width="21" height="6"/><text class="t" x="15.5" y="508.8">Line Mode (1.x)</text></g>
<g id="n-d19"><rect class="or" x="5" y="513" width="21" height="7"/><text class="t" x="15.5" y="517.3">Smooth Lines</text></g>
<g id="n-d20"><rect class="or" x="5" y="521" width="21" height="6"/><text class="t" x="15.5" y="524.8">Bresenham (1.x)</text></g>
<g id="n-d21"><rect class="or" x="157" y="487" width="23" height="7"/><text class="t" x="168.5" y="491.3">Fragment depth (1.x)</text></g>
<g id="n-d22"><rect class="or" x="157" y="500" width="23" height="7"/><text class="t" x="168.5" y="503">gl_SampleID</text><text class="t" x="168.5" y="505.6">(1.x, 1.x)</text></g>
<g id="n-d23"><rect class="or" x="157" y="508" width="23" height="7"/><text class="t" x="168.5" y="511">gl_SamplePosition</text><text class="t" x="168.5" y="513.6">(1.x, 1.x)</text></g>
<g id="n-d24"><rect class="or" x="157" y="516" width="23" height="7"/><text class="t" x="168.5" y="519">gl_HelperInvocation</text><text class="t" x="168.5" y="521.6">(1.x, 1.x)</text></g>
<g id="n-d25"><rect class="or" x="157" y="524" width="23" height="6"/><text class="t" x="168.5" y="527.8">gl_Fragment (1.x)</text></g>
<g id="n-d26"><rect class="or" x="196" y="482" width="21" height="6"/><text class="t" x="206.5" y="484.6">Fragment Shading</text><text class="t" x="206.5" y="487.1">Rate (1.x)</text></g>
<g id="n-d27"><rect class="or" x="196" y="491" width="21" height="6"/><text class="t" x="206.5" y="493.6">Sample Shading</text><text class="t" x="206.5" y="496.1">(1.x)</text></g>
<g id="n-d28"><rect class="or" x="196" y="500" width="21" height="6"/><text class="t" x="206.5" y="503.8">gl_SampleID</text></g>
<g id="n-d29"><rect class="or" x="196" y="508" width="21" height="6"/><text class="t" x="206.5" y="511.8">gl_SampleMaskIn</text></g>
<g id="n-d30"><rect class="or" x="196" y="517" width="21" height="5"/><text class="t" x="206.5" y="520.3">gl_FragCoord</text></g>
<g id="n-d31"><rect class="or" x="196" y="525" width="21" height="6"/><text class="t" x="206.5" y="528.8">gl_FrontFacing</text></g>
<g id="n-d32"><rect class="or" x="123" y="536" width="14" height="6"/><text class="t" x="130" y="539.8">Fragment</text></g>

<!-- ================= FRAME E ================= -->
<g id="frame-frag"><rect class="fr" x="207" y="394" width="190" height="154" rx="3"/><text class="ti" x="209" y="398">Vulkan 1.x Fragment Processing</text></g>
<g id="conn-frag">
<path class="ca" d="M218,407H234"/><path class="c" d="M254,407H330V405H349"/><path class="c" d="M244,412V480H226V468"/>
<path class="c" d="M226,440V461"/><path class="c" d="M218,422H226V432M218,451H226"/>
<path class="c" d="M244,500V528H351M320,407V528M330,407V528"/>
<path class="c" d="M293,422.5H349"/>
<path class="c" d="M283,438V442M283,450V460H276M292,446H306V520M283,466V470M283,478V489H276"/>
<path class="ca" d="M292,474H302V499"/><path class="c" d="M307,505V507H292"/><path class="c" d="M283,518V528"/>
<path class="ca" d="M330,425H349"/><path class="ca" d="M330,438H349"/><path class="ca" d="M330,450H349"/><path class="ca" d="M330,462H349"/>
<path class="c" d="M369,420H384M369,432H384M369,443H384M369,450H384M369,458H384M369,466H384M369,473H384M369,481H384M369,488H384M369,496H384"/>
<path class="c" d="M359,498V535"/><path class="c" d="M359,508H367"/><path class="c" d="M366,539H385"/>
<use href="#st" x="216" y="407"/>
<use href="#dm" x="244" y="420"/><use href="#dm" x="244" y="430"/><use href="#dm" x="244" y="445"/><use href="#dm" x="244" y="452"/><use href="#dm" x="244" y="466"/><use href="#dm" x="244" y="474"/><use href="#dm" x="244" y="480"/>
<use href="#dm" x="320" y="407"/><use href="#dm" x="330" y="407"/><use href="#dm" x="320" y="528"/><use href="#dm" x="330" y="528"/><use href="#dm" x="306" y="446"/><use href="#dm" x="306" y="462"/>
<use href="#dm" x="283" y="460"/><use href="#dm" x="283" y="489"/><use href="#dm" x="359" y="508"/><use href="#dm" x="359" y="528"/>
<use href="#tx" x="216" y="422"/><use href="#tx" x="216" y="451"/><use href="#tx" x="274" y="460"/><use href="#tx" x="274" y="489"/><use href="#tx" x="369" y="508"/><use href="#te" x="387" y="539"/>
<use href="#pt" x="349" y="425"/><use href="#pt" x="349" y="438"/><use href="#pt" x="349" y="450"/><use href="#pt" x="349" y="462"/>
<use href="#pt" x="369" y="420"/><use href="#pt" x="369" y="432"/><use href="#pt" x="369" y="443"/><use href="#pt" x="369" y="450"/><use href="#pt" x="369" y="458"/><use href="#pt" x="369" y="466"/><use href="#pt" x="369" y="473"/><use href="#pt" x="369" y="481"/><use href="#pt" x="369" y="488"/><use href="#pt" x="369" y="496"/>
<use href="#pt" x="283" y="442"/>
<text class="tl" x="305" y="416">Early Tests</text><text class="tl" x="296" y="445">Passed</text><text class="tl" x="296" y="472.5">Passed</text>
<text class="tl" x="271" y="456">Fail</text><text class="tl" x="271" y="485">Fail</text><text class="tl" x="372" y="509">Discard</text>
<text class="tl" x="305" y="526">Early Tests</text><text class="tl" x="361" y="533">Fragment Tests</text>
</g>
<g id="n-e1"><rect class="pk" x="234" y="403" width="20" height="9" rx="3"/><text class="t" x="244" y="406.8">Fragment Density</text><text class="t" x="244" y="409.6">Test (1.x)</text></g>
<g id="n-e2"><rect class="pk" x="216" y="432" width="19" height="8" rx="3"/><text class="t" x="225.5" y="435.5">Discard Rectangle</text><text class="t" x="225.5" y="438.3">(1.x)</text></g>
<g id="n-e3"><rect class="pk" x="216" y="461" width="19" height="7" rx="3"/><text class="t" x="225.5" y="464">Scissor Test</text><text class="t" x="225.5" y="466.6">(1.x)</text></g>
<g id="n-e4"><rect class="lg" x="273" y="420" width="20" height="5"/><text class="t" x="283" y="423.3">gl_FragCoord</text></g>
<g id="n-e5"><rect class="pk" x="273" y="442" width="19" height="8" rx="3"/><text class="t" x="282.5" y="445.5">Depth Bounds</text><text class="t" x="282.5" y="448.3">Test (1.x, 1.x)</text></g>
<g id="n-e6"><rect class="pk" x="273" y="470" width="19" height="8" rx="3"/><text class="t" x="282.5" y="473.5">Stencil Test</text><text class="t" x="282.5" y="476.3">(1.x, 1.x)</text></g>
<g id="n-e7"><rect class="pk" x="303" y="499" width="8" height="6"/><text class="t" x="307" y="502.8">Depth</text></g>
<g id="n-e8"><rect class="pk" x="273" y="507" width="19" height="11" rx="3"/><text class="t" x="282.5" y="511">Occlusion</text><text class="t" x="282.5" y="513.8">Query Update</text><text class="t" x="282.5" y="516.6">(1.x)</text></g>
<g id="n-e9"><rect class="gy" x="349" y="418" width="20" height="80" rx="3"/><text class="t" x="359" y="456.5">Fragment</text><text class="t" x="359" y="459.5">Shading (1.x)</text></g>
<g id="n-e10"><rect class="lg" x="384" y="420" width="26" height="5"/><text class="t" x="397" y="423.3">early_fragment_tests</text></g>
<g id="n-e11"><rect class="or" x="384" y="430" width="26" height="5"/><text class="t" x="397" y="433.3">gl_FragCoord</text></g>
<g id="n-e12"><rect class="lg" x="384" y="441" width="26" height="5"/><text class="t" x="397" y="444.3">gl_Layer</text></g>
<g id="n-e13"><rect class="lg" x="384" y="448" width="26" height="5"/><text class="t" x="397" y="451.3">gl_ViewportIndex</text></g>
<g id="n-e14"><rect class="lg" x="384" y="455" width="26" height="6"/><text class="t" x="397" y="458.8">gl_PrimitiveID</text></g>
<g id="n-e15"><rect class="lg" x="384" y="463" width="26" height="5"/><text class="t" x="397" y="466.3">gl_SampleMask</text></g>
<g id="n-e16"><rect class="lg" x="384" y="471" width="26" height="5"/><text class="t" x="397" y="474.3">input_attachment</text></g>
<g id="n-e17"><rect class="lg" x="384" y="478" width="26" height="5"/><text class="t" x="397" y="481.3">depth_unchanged</text></g>
<g id="n-e18"><rect class="lg" x="384" y="486" width="26" height="5"/><text class="t" x="397" y="489.3">origin_upper_left</text></g>
<g id="n-e19"><rect class="or" x="384" y="499" width="26" height="5"/><text class="t" x="397" y="502.3">gl_FragDepth</text></g>
<g id="n-e20"><rect class="pk" x="351" y="535" width="15" height="7"/><text class="t" x="358.5" y="539.3">Output</text></g>

<!-- ================= FRAME F ================= -->
<g id="frame-pixel"><rect class="fr" x="26" y="575" width="133" height="152" rx="3"/><text class="ti" x="28" y="579">Vulkan 1.x Pixel Processing</text></g>
<g id="conn-pixel">
<path class="c" d="M34,585V675"/>
<path class="ca" d="M34,598H52"/><path class="ca" d="M34,618H52"/><path class="ca" d="M34,636H52"/><path class="ca" d="M34,655H52"/><path class="ca" d="M34,674.5H52"/>
<path class="c" d="M63,603V608H34M63,623V627H34M63,641V646H34M63,660V665H34"/>
<path class="ca" d="M63,679V689"/><path class="ca" d="M63,698V708"/>
<path class="c" d="M35,678.5H50V675"/>
<path class="c" d="M90,594V584H158"/><path class="c" d="M90,603V715H113"/>
<path class="c" d="M98,603V712M98,610H118V619"/><path class="ca" d="M120,625V633"/><path class="c" d="M120,696V705H98"/>
<path class="c" d="M130,640.5H144M130,650.5H144M130,659.5H144M130,669.5H144M130,678.5H144M130,687.5H144"/>
<path class="c" d="M128,712H136"/>
<path class="c" d="M159,707H175"/>
<use href="#st" x="34" y="585"/>
<use href="#dm" x="34" y="598"/><use href="#dm" x="34" y="608"/><use href="#dm" x="34" y="618"/><use href="#dm" x="34" y="627"/><use href="#dm" x="34" y="636"/><use href="#dm" x="34" y="646"/><use href="#dm" x="34" y="655"/><use href="#dm" x="34" y="665"/><use href="#dm" x="34" y="674.5"/>
<use href="#dm" x="98" y="610"/><use href="#dm" x="98" y="705"/><use href="#dm" x="98" y="712"/><use href="#dm" x="90" y="610"/>
<use href="#te" x="138" y="712"/><use href="#te" x="177" y="707"/>
<use href="#pt" x="130" y="640.5"/><use href="#pt" x="130" y="650.5"/><use href="#pt" x="130" y="659.5"/><use href="#pt" x="130" y="669.5"/><use href="#pt" x="130" y="678.5"/><use href="#pt" x="130" y="687.5"/>
<text class="tl" x="100" y="608">Each Attachment</text>
</g>
<g id="n-f1"><rect class="mg" x="148" y="581" width="20" height="6"/><text class="t" x="158" y="583.6">Framebuffer</text><text class="t" x="158" y="586.1">Blend (1.x, 1.x)</text></g>
<g id="n-f2"><rect class="mg" x="52" y="593" width="23" height="10" rx="3"/><text class="t" x="63.5" y="599">Blending (1.x, 1.x)</text></g>
<g id="n-f3"><rect class="mg" x="52" y="613" width="23" height="10" rx="3"/><text class="t" x="63.5" y="617.2">Dual Source</text><text class="t" x="63.5" y="620">(1.x, 1.x)</text></g>
<g id="n-f4"><rect class="mg" x="52" y="632" width="23" height="9" rx="3"/><text class="t" x="63.5" y="635.8">Dithering</text><text class="t" x="63.5" y="638.6">(1.x, 1.x)</text></g>
<g id="n-f5"><rect class="mg" x="52" y="651" width="23" height="9" rx="3"/><text class="t" x="63.5" y="654.8">Logical Operations</text><text class="t" x="63.5" y="657.6">(1.x, 1.x)</text></g>
<g id="n-f6"><rect class="mg" x="52" y="670" width="23" height="9" rx="3"/><text class="t" x="63.5" y="673">Color Write Mask</text><text class="t" x="63.5" y="675.3">Sample Coverage</text><text class="t" x="63.5" y="677.6">(1.x, 1.x)</text></g>
<g id="n-f7"><rect class="mg" x="52" y="689" width="23" height="9" rx="3"/><text class="t" x="63.5" y="692">Multisample Resolve</text><text class="t" x="63.5" y="694.3">for 1x Image</text><text class="t" x="63.5" y="696.6">(1.x, 1.x)</text></g>
<g id="n-f8"><rect class="mg" x="52" y="708" width="23" height="9" rx="3"/><text class="t" x="63.5" y="711">Color Write</text><text class="t" x="63.5" y="713.3">to Attachment</text><text class="t" x="63.5" y="715.6">(1.x, 1.x)</text></g>
<g id="n-f9"><rect class="mg" x="79" y="594" width="22" height="9" rx="3"/><text class="t" x="90" y="597.8">Write Color Output</text><text class="t" x="90" y="600.6">(1.x, 1.x)</text></g>
<g id="n-f10"><rect class="gy" x="113" y="619" width="15" height="6"/><text class="t" x="120.5" y="622.8">Image</text></g>
<g id="n-f11"><rect class="gy" x="112" y="633" width="18" height="63" rx="3"/><text class="t" x="121" y="663">Attachment</text><text class="t" x="121" y="666">Reading (1.x)</text></g>
<g id="n-f12"><rect class="lg" x="144" y="638" width="30" height="5"/><text class="t" x="159" y="641.3">gl_SampleMaskIn (1.x)</text></g>
<g id="n-f13"><rect class="lg" x="144" y="648" width="30" height="5"/><text class="t" x="159" y="651.3">gl_FragColor (1.x)</text></g>
<g id="n-f14"><rect class="lg" x="144" y="657" width="30" height="5"/><text class="t" x="159" y="660.3">gl_FragDepth (1.x)</text></g>
<g id="n-f15"><rect class="lg" x="144" y="667" width="30" height="5"/><text class="t" x="159" y="670.3">gl_SampleMask (1.x, 1.x)</text></g>
<g id="n-f16"><rect class="lg" x="144" y="676" width="30" height="5"/><text class="t" x="159" y="679.3">gl_FragStencilRef (1.x)</text></g>
<g id="n-f17"><rect class="lg" x="144" y="685" width="30" height="5"/><text class="t" x="159" y="688.3">gl_SampleID (1.x, 1.x)</text></g>
<g id="n-f18"><rect class="mg" x="113" y="708" width="15" height="7"/><text class="t" x="120.5" y="712.3">Done</text></g>
<g id="n-f19"><rect class="lg" x="15" y="676" width="20" height="5"/><text class="t" x="25" y="679.3">Dependencies</text></g>

<!-- ================= FRAME G ================= -->
<g id="frame-compute"><rect class="fr" x="197" y="575" width="200" height="152" rx="3"/><text class="ti" x="199" y="579">Vulkan 1.x Compute Shading</text></g>
<g id="conn-compute">
<path class="ca" d="M225,590V594"/><path class="c" d="M203,597.5H213M203,610H209V605H213"/>
<path class="c" d="M221,613V638M221,620H230V615M239,613V660"/>
<path class="c" d="M203,633.5H221M203,646.5H213"/><path class="c" d="M203,657.5H213"/>
<path class="c" d="M221,660V678M221,688V695M221,700V708"/>
<path class="c" d="M203,684.5H213"/>
<path class="c" d="M230,598H280V594H292M244,598V622M239,622H244"/>
<path class="c" d="M264,622.5H272V594"/>
<path class="ca" d="M302,583V594"/><path class="c" d="M280,583H330V570M297,570V583"/>
<path class="ca" d="M302,603V610"/><path class="c" d="M302,616V625H290V632M302,625H314V632"/>
<path class="c" d="M290,643V650M314,643V650M290,650H314M302,650V659"/><path class="c" d="M324,637H328"/>
<path class="c" d="M290,668V660H314V668M280,660H324"/>
<path class="c" d="M290,678V685H314V678M302,685V694"/><path class="ca" d="M302,700V706"/><path class="c" d="M302,714V719"/>
<path class="c" d="M314,722H328"/><path class="c" d="M332,722H349"/><path class="c" d="M311,710H324V588H349"/>
<path class="c" d="M359,593V718"/><path class="c" d="M359,603H377V610M377,616V623M377,632V640H359M359,650H377V657M377,663V671M377,679V688H359"/>
<path class="c" d="M369,589H386V587M391,589.5H386"/><path class="c" d="M355,584V578H386V587"/>
<path class="c" d="M230,722H291"/><path class="c" d="M239,681V722"/>
<path class="c" d="M384,686H392V697"/>
<use href="#st" x="225" y="588"/>
<use href="#dm" x="221" y="620"/><use href="#dm" x="221" y="633.5"/><use href="#dm" x="239" y="622"/><use href="#dm" x="302" y="625"/><use href="#dm" x="302" y="650"/><use href="#dm" x="302" y="656"/><use href="#dm" x="302" y="660"/><use href="#dm" x="302" y="685"/>
<use href="#dm" x="359" y="603"/><use href="#dm" x="359" y="640"/><use href="#dm" x="359" y="650"/><use href="#dm" x="359" y="688"/><use href="#dm" x="239" y="722"/><use href="#dm" x="221" y="700"/>
<use href="#te" x="330" y="722"/>
<use href="#pt" x="292" y="594"/><use href="#pt" x="349" y="588"/><use href="#pt" x="324" y="637"/><use href="#pt" x="290" y="632"/><use href="#pt" x="314" y="632"/><use href="#pt" x="290" y="668"/><use href="#pt" x="314" y="668"/>
<text class="tl" x="247" y="596">Dispatch (1.x)</text><text class="tl" x="305" y="620">Group</text><text class="tl" x="247" y="720">Indirect</text><text class="tl" x="350" y="656">Barrier</text><text class="tl" x="203" y="629">Local Size</text>
</g>
<g id="n-h1"><rect class="wh" x="213" y="594" width="17" height="19" rx="3"/><text class="t" x="221.5" y="601.5">Workgroup</text><text class="t" x="221.5" y="604.3">Dispatch</text><text class="t" x="221.5" y="607.1">(1.x)</text></g>
<g id="n-h2"><rect class="wh" x="191" y="595" width="12" height="5"/><text class="t" x="197" y="598.3">Dispatch</text></g>
<g id="n-h3"><rect class="wh" x="191" y="607" width="12" height="6"/><text class="t" x="197" y="610.8">Indirect</text></g>
<g id="n-h4"><rect class="wh" x="191" y="631" width="12" height="5"/><text class="t" x="197" y="634.3">Size</text></g>
<g id="n-h5"><rect class="wh" x="191" y="644" width="12" height="5"/><text class="t" x="197" y="647.3">Base</text></g>
<g id="n-h6"><rect class="wh" x="191" y="655" width="12" height="5"/><text class="t" x="197" y="658.3">Group</text></g>
<g id="n-h7"><rect class="wh" x="191" y="682" width="12" height="5"/><text class="t" x="197" y="685.3">Shared</text></g>
<g id="n-h8"><rect class="wh" x="213" y="638" width="17" height="22" rx="3"/><text class="t" x="221.5" y="647">Local</text><text class="t" x="221.5" y="649.8">Invocations</text><text class="t" x="221.5" y="652.6">(1.x)</text></g>
<g id="n-h9"><rect class="wh" x="213" y="678" width="17" height="10" rx="3"/><text class="t" x="221.5" y="681.8">Barrier</text><text class="t" x="221.5" y="684.6">(1.x)</text></g>
<g id="n-h10"><rect class="wh" x="214" y="695" width="16" height="5"/><text class="t" x="222" y="698.3">Memory</text></g>
<g id="n-h11"><rect class="wh" x="213" y="708" width="17" height="9" rx="3"/><text class="t" x="221.5" y="711.8">Subgroup</text><text class="t" x="221.5" y="714.6">(1.x)</text></g>
<g id="n-h12"><rect class="wh" x="244" y="619" width="20" height="7"/><text class="t" x="254" y="623.3">Work Group</text></g>
<g id="n-h13"><rect class="wh" x="292" y="594" width="20" height="9" rx="3"/><text class="t" x="302" y="597.8">Task Shader</text><text class="t" x="302" y="600.6">(1.x, 1.x)</text></g>
<g id="n-h14"><rect class="wh" x="292" y="610" width="19" height="6"/><text class="t" x="301.5" y="613.8">Payload</text></g>
<g id="n-h15"><rect class="wh" x="280" y="632" width="20" height="11" rx="3"/><text class="t" x="290" y="636">Mesh Shader</text><text class="t" x="290" y="638.8">Output</text><text class="t" x="290" y="641.6">(1.x)</text></g>
<g id="n-h16"><rect class="wh" x="304" y="632" width="20" height="11" rx="3"/><text class="t" x="314" y="636">Mesh</text><text class="t" x="314" y="638.8">Primitives</text><text class="t" x="314" y="641.6">(1.x)</text></g>
<g id="n-h17"><rect class="wh" x="280" y="668" width="20" height="10" rx="3"/><text class="t" x="290" y="671.8">Vertices</text><text class="t" x="290" y="674.6">(1.x)</text></g>
<g id="n-h18"><rect class="wh" x="304" y="668" width="20" height="10" rx="3"/><text class="t" x="314" y="671.8">Indices</text><text class="t" x="314" y="674.6">(1.x)</text></g>
<g id="n-h19"><rect class="wh" x="292" y="694" width="19" height="6"/><text class="t" x="301.5" y="697.8">Primitive Output</text></g>
<g id="n-h20"><rect class="wh" x="292" y="706" width="19" height="8" rx="3"/><text class="t" x="301.5" y="709.5">Output Culling</text><text class="t" x="301.5" y="712.3">(1.x, 1.x)</text></g>
<g id="n-h21"><rect class="wh" x="291" y="719" width="23" height="5"/><text class="t" x="302.5" y="722.3">Mesh (1.x, 1.x, 1.x)</text></g>
<g id="n-h22"><rect class="wh" x="349" y="584" width="19" height="9" rx="3"/><text class="t" x="358.5" y="587.8">Dispatch</text><text class="t" x="358.5" y="590.6">(1.x, 1.x)</text></g>
<g id="n-h23"><rect class="wh" x="391" y="587" width="13" height="5"/><text class="t" x="397.5" y="590.3">Indirect</text></g>
<g id="n-h24"><rect class="wh" x="368" y="610" width="19" height="6"/><text class="t" x="377.5" y="613.8">Image Sample</text></g>
<g id="n-h25"><rect class="wh" x="368" y="623" width="19" height="9" rx="3"/><text class="t" x="377.5" y="626.8">Sampling</text><text class="t" x="377.5" y="629.6">(1.x, 1.x)</text></g>
<g id="n-h26"><rect class="wh" x="368" y="657" width="19" height="6"/><text class="t" x="377.5" y="660.8">Subgroup</text></g>
<g id="n-h27"><rect class="wh" x="368" y="671" width="19" height="8" rx="3"/><text class="t" x="377.5" y="674.5">Subgroup</text><text class="t" x="377.5" y="677.3">Operations</text></g>
<g id="n-h28"><path class="wh" d="M362,691H389L392,694V713H362Z"/></g>
<g id="n-h29"><rect class="wh" x="349" y="718" width="20" height="7"/><text class="t" x="359" y="722.3">Output Region</text></g>
<g id="n-h30"><rect class="wh" x="297" y="567" width="20" height="5"/><text class="t" x="307" y="570.3">Mesh Task</text></g>
<g id="n-h31"><path class="wh" d="M321,563H351L354,566V570H321Z"/><text class="tl" x="322" y="566.3">Not supported on implementations</text><text class="tl" x="322" y="569">with no mesh</text></g>
<g id="n-h32"><rect class="wh" x="225" y="631" width="19" height="39"/></g>

<!-- ================= FRAME H (legend) ================= -->
<g id="frame-legend"><rect class="fr" x="417" y="562" width="46" height="164" rx="3"/><text class="ti" x="419" y="566">Vulkan 1.x Shading</text></g>
<g id="conn-legend">
<path class="c" d="M414,636V700M464,631V652"/>
</g>
<g id="legend-items">
<rect class="gy" x="427" y="569" width="25" height="7" rx="3" style="fill:#e6e6e6"/><text class="t" x="439.5" y="573.2">Compute Shader</text>
<rect class="gy" x="427" y="579" width="25" height="7" rx="3" style="fill:#e6e6e6"/><text class="t" x="439.5" y="581.8">Vertex Shader</text><text class="t" x="439.5" y="584.5">(1.x, 1.x)</text>
<rect class="gy" x="427" y="588" width="25" height="7" rx="3" style="fill:#e6e6e6"/><text class="t" x="439.5" y="590.8">Tessellation</text><text class="t" x="439.5" y="593.5">Control (1.x)</text>
<rect class="gy" x="427" y="598" width="25" height="9" rx="3" style="fill:#e6e6e6"/><text class="t" x="439.5" y="601">Tessellation Eval</text><text class="t" x="439.5" y="603.5">and Geometry</text><text class="t" x="439.5" y="606">Shaders (1.x)</text>
<rect class="gy" x="427" y="610" width="25" height="7" rx="3" style="fill:#e6e6e6"/><text class="t" x="439.5" y="612.8">Fragment</text><text class="t" x="439.5" y="615.5">(1.x)</text>
<rect class="gy" x="427" y="619" width="25" height="7" rx="3" style="fill:#e6e6e6"/><text class="t" x="439.5" y="621.8">Mesh Shader</text><text class="t" x="439.5" y="624.5">(1.x)</text>
<rect class="gy" x="427" y="629" width="25" height="7" rx="3" style="fill:#e6e6e6"/><text class="t" x="439.5" y="631.8">Task Shader</text><text class="t" x="439.5" y="634.5">(1.x, 1.x)</text>
<rect class="gy" x="427" y="639" width="25" height="7" rx="3" style="fill:#e6e6e6"/><text class="t" x="439.5" y="641.8">Ray Generation</text><text class="t" x="439.5" y="644.5">(1.x)</text>
<rect class="gy" x="427" y="648" width="25" height="7" rx="3" style="fill:#e6e6e6"/><text class="t" x="439.5" y="650.8">Intersection</text><text class="t" x="439.5" y="653.5">(1.x)</text>
<rect class="gy" x="427" y="658" width="25" height="7" rx="3" style="fill:#e6e6e6"/><text class="t" x="439.5" y="660.8">Any Hit Shader</text><text class="t" x="439.5" y="663.5">(1.x, 1.x)</text>
<rect class="gy" x="427" y="667" width="25" height="7" rx="3" style="fill:#e6e6e6"/><text class="t" x="439.5" y="669.8">Closest Hit</text><text class="t" x="439.5" y="672.5">(1.x)</text>
<rect class="gy" x="427" y="677" width="25" height="7" rx="3" style="fill:#e6e6e6"/><text class="t" x="439.5" y="679.8">Miss Shader</text><text class="t" x="439.5" y="682.5">(1.x, 1.x)</text>
<rect class="gy" x="427" y="686" width="25" height="7" rx="3" style="fill:#e6e6e6"/><text class="t" x="439.5" y="688.8">Callable</text><text class="t" x="439.5" y="691.5">(1.x)</text>
<rect class="gy" x="427" y="696" width="25" height="7" rx="3" style="fill:#e6e6e6"/><text class="t" x="439.5" y="698.8">Cluster Culling</text><text class="t" x="439.5" y="701.5">(1.x, 1.x)</text>
<rect class="gy" x="427" y="705" width="25" height="7" rx="3" style="fill:#e6e6e6"/><text class="t" x="439.5" y="707.8">Subpass Shading</text><text class="t" x="439.5" y="710.5">(1.x)</text>
<rect class="gy" x="427" y="714" width="25" height="9" rx="3" style="fill:#e6e6e6"/><text class="t" x="439.5" y="717">Shader Objects</text><text class="t" x="439.5" y="719.5">Binary Shaders</text><text class="t" x="439.5" y="722">(1.x)</text>
</g>
<g id="legend-left">
<rect class="wh" x="407" y="632" width="14" height="4"/><text class="t" x="414" y="634.9">Triangles</text>
<rect class="wh" x="407" y="640" width="14" height="4"/><text class="t" x="414" y="642.9">Lines (1.x)</text>
<rect class="wh" x="407" y="648" width="14" height="4"/><text class="t" x="414" y="650.9">Points</text>
<rect class="wh" x="407" y="656" width="14" height="4"/><text class="t" x="414" y="658.9">Adjacency</text>
<rect class="wh" x="407" y="664" width="14" height="4"/><text class="t" x="414" y="666.9">Patch List</text>
<rect class="wh" x="407" y="672" width="14" height="4"/><text class="t" x="414" y="674.9">Restart</text>
<rect class="wh" x="407" y="680" width="14" height="4"/><text class="t" x="414" y="682.9">Topology</text>
<rect class="wh" x="407" y="688" width="14" height="4"/><text class="t" x="414" y="690.9">Strips</text>
<rect class="wh" x="407" y="696" width="14" height="5"/><text class="t" x="414" y="699.2">Fans (1.x)</text>
</g>
<g id="legend-right">
<rect class="wh" x="457" y="627" width="13" height="4"/><text class="t" x="463.5" y="629.9">Binding (1.x)</text>
<rect class="wh" x="457" y="635" width="13" height="5"/><text class="t" x="463.5" y="638.3">Stride</text>
<rect class="wh" x="457" y="642" width="13" height="5"/><text class="t" x="463.5" y="645.3">Rate</text>
<rect class="wh" x="457" y="650" width="13" height="7"/><text class="t" x="463.5" y="653">Divisor</text><text class="t" x="463.5" y="655.6">(1.x)</text>
</g>
</svg>
